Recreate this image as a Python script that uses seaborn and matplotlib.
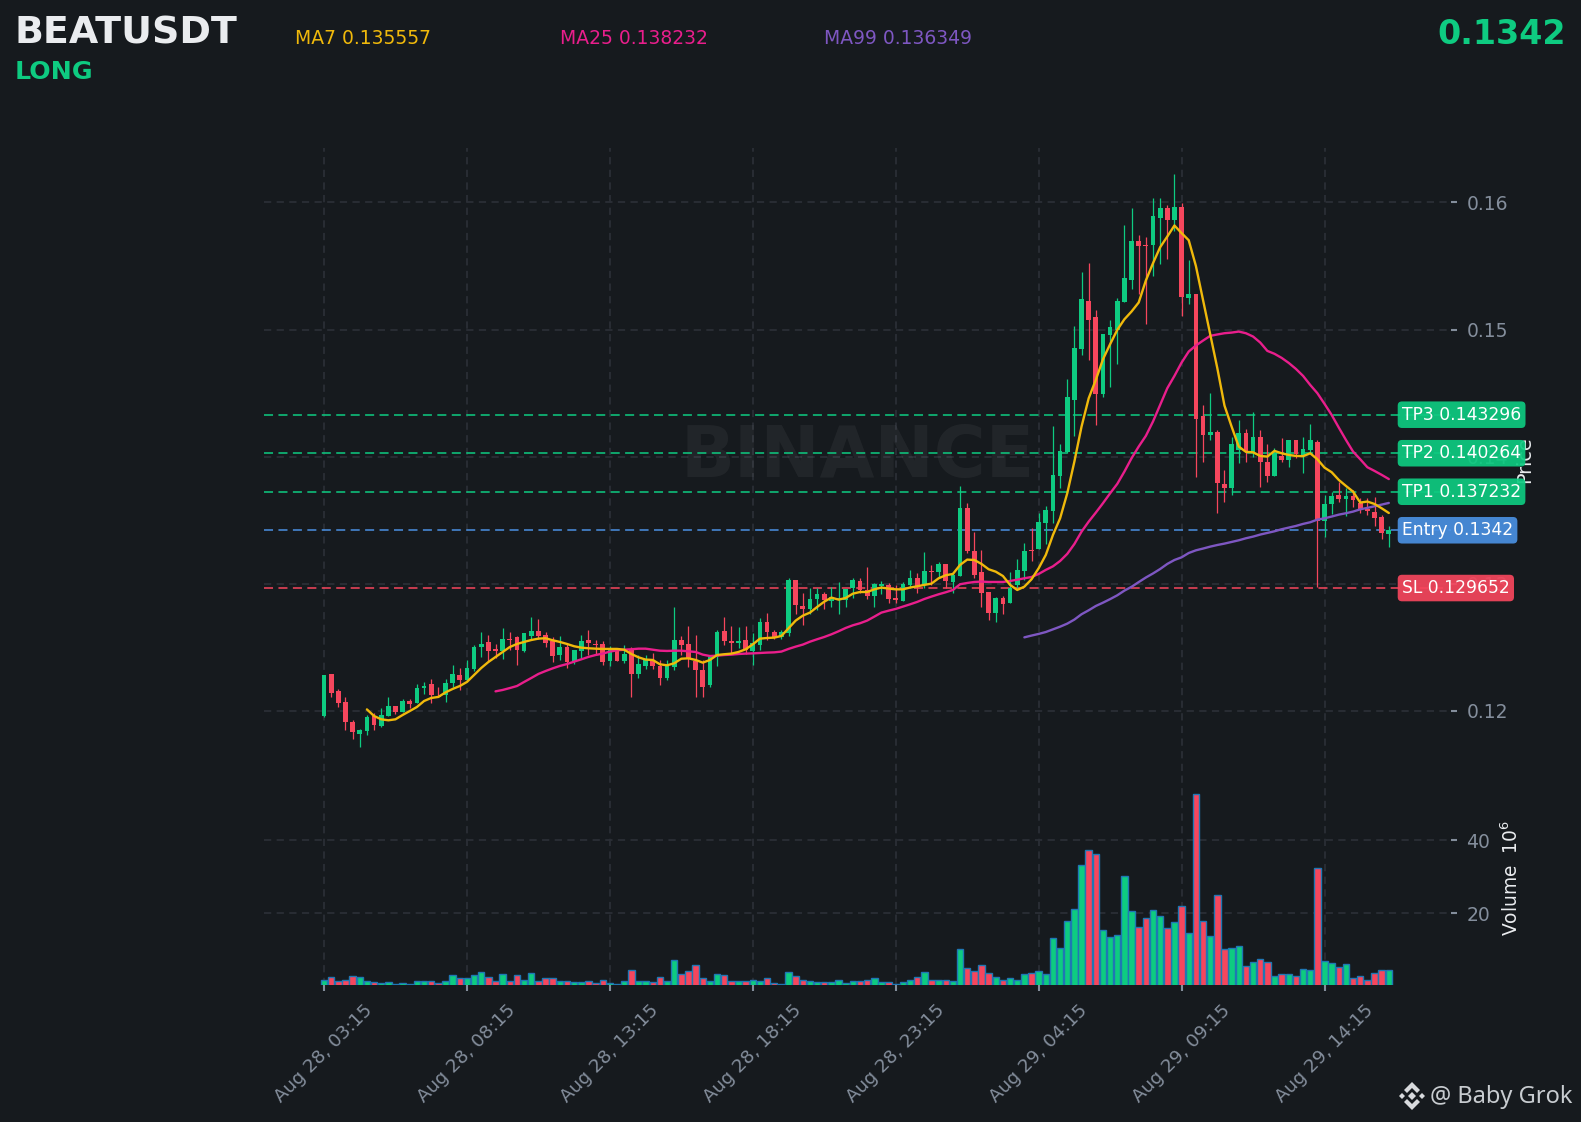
import pandas as pd
import matplotlib.pyplot as plt
from matplotlib.patches import Polygon
import seaborn as sns

# --- Candle data (15m) ---
opens = [.11958,.12289,.12155,.12068,.11908,.11816,.11840,.11958,.11879,.11958,
         .12037,.11990,.12076,.12060,.12178,.12210,.12110,.12123,.12218,.12281,
         .12241,.12328,.12501,.12541,.12486,.12470,.12564,.12580,.12470,.12588,
         .12627,.12596,.12549,.12438,.12501,.12383,.12470,.12556,.12525,.12525,
         .12391,.12478,.12391,.12478,.12289,.12352,.12391,.12352,.12257,.12344,
         .12556,.12525,.12391,.12320,.12202,.12425,.12627,.12549,.12533,.12556,
         .12470,.12517,.12698,.12619,.12580,.12612,.13029,.12824,.12801,.12879,
         .12919,.12866,.12871,.12871,.12966,.13021,.12950,.12903,.12982,.12990,
         .12887,.12864,.12990,.13045,.12990,.13102,.13094,.13155,.13013,.13060,
         .13596,.13257,.13092,.12934,.12769,.12887,.12848,.12990,.13100,.13265,
         .13273,.13478,.13575,.13848,.14037,.14446,.14848,.15226,.15100,.14493,
         .14958,.14997,.15218,.15391,.15698,.15667,.15667,.15879,.15958,.15864,
         .15966,.15249,.15281,.14320,.14171,.14194,.13785,.13753,.14052,.14186,
         .14026,.14155,.13961,.13848,.14008,.13974,.14131,.14010,.14052,.14115,
         .13496,.13627,.13698,.13667,.13690,.13633,.13588,.13564,.13525,.13394]
closes = [.12281,.12142,.12060,.11913,.11832,.11848,.11950,.11887,.11966,.12037,
          .11990,.12076,.12052,.12178,.12194,.12123,.12108,.12218,.12289,.12241,
          .12336,.12501,.12525,.12470,.12470,.12564,.12559,.12478,.12612,.12627,
          .12588,.12533,.12430,.12501,.12383,.12478,.12549,.12533,.12520,.12383,
          .12478,.12391,.12446,.12289,.12367,.12399,.12352,.12257,.12352,.12556,
          .12517,.12412,.12320,.12186,.12423,.12619,.12549,.12533,.12549,.12478,
          .12533,.12698,.12619,.12580,.12619,.13029,.12832,.12801,.12879,.12919,
          .12871,.12898,.12885,.12958,.13029,.12950,.12903,.12997,.12997,.12879,
          .12871,.12997,.13045,.12974,.13100,.13094,.13155,.13021,.13068,.13596,
          .13257,.13068,.12927,.12769,.12887,.12840,.12966,.13108,.13257,.13257,
          .13486,.13580,.13856,.14045,.14470,.14856,.15241,.15076,.14493,.14966,
          .15021,.15226,.15407,.15698,.15659,.15659,.15895,.15958,.15864,.15966,
          .15257,.15281,.14297,.14171,.14194,.13793,.13753,.14100,.14186,.14037,
          .14155,.13961,.13848,.14026,.13974,.14131,.14021,.14060,.14131,.13496,
          .13627,.13690,.13667,.13690,.13659,.13585,.13575,.13517,.13402,.13420]
highs = [.12281,.12289,.12168,.12105,.11927,.11853,.11966,.11979,.12018,.12105,
         .12037,.12089,.12092,.12207,.12226,.12249,.12184,.12247,.12357,.12336,
         .12399,.12517,.12617,.12596,.12525,.12648,.12619,.12588,.12612,.12738,
         .12719,.12619,.12583,.12588,.12525,.12478,.12596,.12635,.12556,.12549,
         .12509,.12478,.12517,.12501,.12438,.12438,.12451,.12399,.12399,.12816,
         .12588,.12667,.12596,.12399,.12423,.12635,.12738,.12667,.12659,.12667,
         .12609,.12727,.12766,.12635,.12635,.13042,.13029,.12924,.12963,.12963,
         .12937,.12976,.13016,.12958,.13042,.13042,.13134,.13003,.13024,.13003,
         .12990,.13016,.13108,.13081,.13247,.13147,.13173,.13155,.13094,.13769,
         .13633,.13409,.13265,.12934,.12898,.12903,.13094,.13192,.13323,.13436,
         .13554,.13612,.14241,.14100,.14612,.15029,.15454,.15525,.15155,.14966,
         .15076,.15247,.15824,.15955,.15745,.15727,.16034,.16034,.15982,.16226,
         .15995,.15549,.15281,.14407,.14499,.14210,.13895,.14152,.14289,.14215,
         .14349,.14210,.14097,.14066,.14144,.14131,.14131,.14152,.14257,.14131,
         .13696,.13724,.13803,.13751,.13738,.13672,.13672,.13685,.13541,.13454]
lows = [.11948,.12110,.12031,.11848,.11780,.11717,.11811,.11848,.11869,.11958,
        .11974,.11990,.12021,.12060,.12131,.12063,.12105,.12071,.12184,.12165,
        .12234,.12312,.12423,.12383,.12415,.12407,.12478,.12360,.12462,.12556,
        .12564,.12501,.12383,.12399,.12333,.12367,.12412,.12438,.12438,.12360,
        .12352,.12391,.12373,.12110,.12257,.12328,.12328,.12202,.12241,.12320,
        .12438,.12346,.12110,.12108,.12189,.12352,.12517,.12444,.12496,.12444,
        .12360,.12478,.12556,.12564,.12564,.12588,.12761,.12672,.12761,.12793,
        .12803,.12819,.12759,.12814,.12885,.12924,.12877,.12814,.12916,.12845,
        .12845,.12864,.12963,.12924,.12963,.12990,.13055,.12963,.12924,.13060,
        .13239,.13042,.12814,.12714,.12701,.12761,.12845,.12963,.13029,.13181,
        .13273,.13312,.13475,.13753,.14026,.14163,.14801,.14761,.14247,.14472,
        .14551,.14730,.15218,.15323,.15281,.15042,.15425,.15514,.15559,.15772,
        .15110,.15202,.13837,.13961,.14131,.13554,.13646,.13698,.13953,.13961,
        .14000,.13764,.13803,.13848,.13961,.13921,.13987,.13869,.14039,.12976,
        .13370,.13549,.13646,.13535,.13606,.13554,.13538,.13454,.13352,.13291]

# volume in millions
volumes = [1.6,2.5,1.3,1.8,2.7,2.5,1.3,1.0,0.8,1.0,
           0.5,0.8,0.5,1.3,1.3,1.5,0.8,1.5,3.0,2.1,
           2.1,3.0,3.8,2.4,1.5,3.3,1.3,3.0,1.8,3.5,
           1.3,2.2,2.2,1.5,1.5,1.0,1.0,1.3,0.8,1.8,
           0.8,0.5,1.3,4.4,1.3,1.5,1.0,2.4,1.3,7.1,
           3.3,4.0,5.7,2.2,1.3,3.3,3.0,1.5,1.3,1.5,
           1.8,1.5,2.2,0.8,0.45,3.8,2.7,1.8,1.5,1.0,
           1.0,1.0,1.8,0.8,1.5,1.3,1.8,2.1,1.0,1.0,
           0.7,1.0,1.8,2.4,3.8,1.8,1.6,1.6,1.3,10.1,
           4.9,4.0,5.7,3.5,2.4,1.6,2.1,1.8,3.2,3.5,
           4.0,3.2,13.1,10.4,17.8,21.1,33.2,37.3,36.2,15.3,
           13.4,13.9,30.2,20.6,16.1,18.6,20.8,19.2,15.9,17.5,
           21.9,14.5,52.6,17.8,13.7,25.0,10.1,10.4,10.9,5.4,
           6.5,7.3,6.5,2.9,3.2,3.2,2.9,4.6,4.3,32.4,
           6.8,6.2,5.1,6.0,2.1,2.9,1.8,3.5,4.3,4.3]

# moving averages, read per candle
ma7_start = 6
ma7 = [.12010,.11958,.11932,.11924,.11932,.11966,.11997,.12029,.12076,.12100,
       .12108,.12144,.12171,.12194,.12226,.12281,.12336,.12383,.12423,.12462,
       .12501,.12525,.12541,.12556,.12567,.12570,.12554,.12541,.12525,.12507,
       .12496,.12491,.12488,.12486,.12486,.12486,.12480,.12446,.12420,.12402,
       .12399,.12365,.12357,.12373,.12409,.12412,.12399,.12378,.12399,.12438,
       .12444,.12449,.12462,.12483,.12522,.12567,.12572,.12575,.12588,.12648,
       .12709,.12748,.12772,.12816,.12858,.12890,.12874,.12887,.12921,.12934,
       .12934,.12955,.12969,.12961,.12955,.12955,.12969,.12979,.12990,.13000,
       .13042,.13066,.13076,.13147,.13189,.13186,.13155,.13113,.13094,.13060,
       .12990,.12950,.12976,.13034,.13121,.13226,.13383,.13514,.13711,.13961,
       .14236,.14459,.14604,.14766,.14885,.14997,.15081,.15142,.15213,.15386,
       .15522,.15648,.15732,.15819,.15759,.15703,.15501,.15234,.14971,.14696,
       .14402,.14236,.14079,.14037,.14034,.14005,.14000,.14045,.14026,.14013,
       .14005,.14003,.14026,.13979,.13913,.13877,.13816,.13769,.13724,.13638,
       .13646,.13627,.13593,.13556]
ma25_start = 24
ma25 = [.12152,.12163,.12178,.12194,.12226,.12257,.12289,.12312,.12333,.12352,
        .12367,.12386,.12404,.12423,.12438,.12449,.12465,.12475,.12480,.12483,
        .12488,.12488,.12480,.12472,.12470,.12472,.12472,.12467,.12462,.12441,
        .12430,.12433,.12438,.12441,.12446,.12449,.12451,.12454,.12457,.12459,
        .12465,.12486,.12504,.12520,.12543,.12562,.12580,.12601,.12625,.12651,
        .12672,.12688,.12709,.12740,.12772,.12787,.12801,.12819,.12837,.12856,
        .12879,.12898,.12916,.12932,.12950,.12995,.13005,.13013,.13016,.13013,
        .13013,.13013,.13021,.13031,.13042,.13052,.13076,.13108,.13136,.13178,
        .13234,.13312,.13409,.13488,.13559,.13633,.13711,.13785,.13882,.13987,
        .14079,.14163,.14276,.14407,.14538,.14635,.14740,.14827,.14874,.14913,
        .14950,.14961,.14971,.14976,.14984,.14971,.14945,.14898,.14832,.14809,
        .14777,.14737,.14690,.14635,.14564,.14499,.14415,.14328,.14228,.14131,
        .14039,.13979,.13916,.13887,.13856,.13823]
ma99_start = 98
ma99 = [.12577,.12591,.12604,.12619,.12640,.12661,.12685,.12717,.12759,.12790,
        .12824,.12850,.12878,.12908,.12945,.12975,.13012,.13048,.13080,.13115,
        .13155,.13186,.13207,.13241,.13262,.13276,.13291,.13304,.13315,.13328,
        .13341,.13357,.13370,.13386,.13399,.13412,.13428,.13441,.13454,.13470,
        .13483,.13504,.13514,.13528,.13543,.13554,.13567,.13585,.13596,.13609,
        .13622,.13635]

# tick positions / labels
x_ticks = [0, 20, 40, 60, 80, 100, 120, 140]
x_labels = ["Aug 28, 03:15", "Aug 28, 08:15", "Aug 28, 13:15", "Aug 28, 18:15",
            "Aug 28, 23:15", "Aug 29, 04:15", "Aug 29, 09:15", "Aug 29, 14:15"]
price_ticks = [0.12, 0.13, 0.14, 0.15, 0.16]
vol_ticks = [20, 40]

# trade levels
level_names = ["TP3 0.143296", "TP2 0.140264", "TP1 0.137232", "Entry 0.1342", "SL 0.129652"]
level_values = [0.143296, 0.140264, 0.137232, 0.1342, 0.129652]
level_colors = ["#0ecb81", "#0ecb81", "#0ecb81", "#4a90e2", "#f6465d"]

BG = "#161a1e"
UP = "#0ecb81"
DOWN = "#f6465d"
GRID = "#2b2f36"
TICK = "#848e9c"

sns.set_theme(style="dark", rc={
    "figure.facecolor": BG, "axes.facecolor": BG, "savefig.facecolor": BG,
    "axes.edgecolor": BG, "font.family": "DejaVu Sans",
})

W, H = 1581, 1122
fig = plt.figure(figsize=(W / 100, H / 100), dpi=100)

# panels, in pixels
left, right, top, split, bottom = 264, 1451, 148, 771, 985
ax = fig.add_axes([left / W, 1 - split / H, (right - left) / W, (split - top) / H])
ax_vol = fig.add_axes([left / W, 1 - bottom / H, (right - left) / W, (bottom - split) / H])

idx = list(range(len(opens)))
side = ["up" if c >= o else "down" for o, c in zip(opens, closes)]
palette = {"up": UP, "down": DOWN}
colors = [palette[s] for s in side]

# --- Candles ---
ax.vlines(idx, lows, highs, colors=colors, linewidth=0.9, zorder=3)
ax.bar(idx, [max(abs(c - o), 0.00004) for o, c in zip(opens, closes)],
       bottom=[min(o, c) for o, c in zip(opens, closes)],
       width=0.66, color=colors, linewidth=0, zorder=3)

# --- Moving averages ---
for values, start, col in [(ma99, ma99_start, "#7e57c2"), (ma25, ma25_start, "#e91e8c"), (ma7, ma7_start, "#f0b90b")]:
    sns.lineplot(x=idx[start:], y=values, ax=ax, color=col, linewidth=1.7, zorder=4, legend=False)

# --- Levels ---
for name, val, col in zip(level_names, level_values, level_colors):
    ax.axhline(val, color=col, linewidth=1.3, linestyle=(0, (5, 3)), alpha=0.85, zorder=2)
    ax.text(0.9587, val, name, transform=ax.get_yaxis_transform(), color="white", fontsize=12.3,
            va="center", ha="left", zorder=6, clip_on=False,
            bbox=dict(boxstyle="round,pad=0.25", facecolor=col, edgecolor="none", alpha=0.92))

ax.text(0.5, 0.503, "BINANCE", transform=ax.transAxes, color="white", alpha=0.05, fontsize=51,
        fontweight="bold", ha="center", va="center", zorder=1)

# --- Volume ---
vol_df = pd.DataFrame({"idx": idx, "volume": volumes, "side": side})
sns.barplot(data=vol_df, x="idx", y="volume", hue="side", palette=palette, native_scale=True,
            dodge=False, width=0.9, saturation=1, edgecolor="#1f77b4", linewidth=1.0,
            legend=False, ax=ax_vol, zorder=3)

# --- Axes ---
for a in (ax, ax_vol):
    a.set_xlim(-8.4, 157.7)
    a.set_xticks(x_ticks)
    a.yaxis.tick_right()
    a.yaxis.set_label_position("right")
    a.grid(True, color=GRID, linestyle=(0, (4, 3)), linewidth=1.3)
    a.set_axisbelow(True)
    a.set_xlabel("")
    a.tick_params(axis="y", colors=TICK, labelsize=13.5, length=4.5, width=1.5, right=True, pad=6.5)
    sns.despine(ax=a, left=True, right=True, top=True, bottom=True)

ax.set_ylim(0.11525, 0.16429)
ax.set_yticks(price_ticks)
ax.set_yticklabels([f"{t:g}" for t in price_ticks])
ax.tick_params(axis="x", bottom=False, labelbottom=False)
ax.set_ylabel("Price", color="#eaecef", fontsize=13.8)
ax.yaxis.set_label_coords(1.054, 0.5)

ax_vol.set_ylim(0.3, 58.9)
ax_vol.set_yticks(vol_ticks)
ax_vol.set_yticklabels([str(t) for t in vol_ticks])
ax_vol.set_xticklabels(x_labels, rotation=45, ha="center")
ax_vol.tick_params(axis="x", colors=TICK, labelsize=13.3, length=4.5, width=1.5, bottom=True, pad=7)
ax_vol.set_ylabel("Volume  $10^{6}$", color="#eaecef", fontsize=13.4)
ax_vol.yaxis.set_label_coords(1.0421, 0.5)

# --- Header ---
fig.text(15 / W, 1 - 34 / H, "BEATUSDT", color="#eaecef", fontsize=27.4, fontweight="bold", va="center")
fig.text(15 / W, 1 - 72 / H, "LONG", color=UP, fontsize=18.2, fontweight="bold", va="center")
fig.text(295 / W, 1 - 38 / H, "MA7 0.135557", color="#f0b90b", fontsize=13.5, va="center")
fig.text(560 / W, 1 - 38 / H, "MA25 0.138232", color="#e91e8c", fontsize=13.5, va="center")
fig.text(824 / W, 1 - 38 / H, "MA99 0.136349", color="#7e57c2", fontsize=13.5, va="center")
fig.text(1566 / W, 1 - 35 / H, "0.1342", color=UP, fontsize=24, fontweight="bold", va="center", ha="right")

# --- Footer: logo and handle ---
fig.text(1572 / W, 1 - 1097 / H, "@ Baby Grok", color="#c8ccd0", fontsize=17, family="Noto Sans", ha="right", va="center")
logo_x, logo_y, logo_col = 1412, 1122 - 1096, "#d8dadd"
to_fig = lambda pts: [((logo_x + px) / W, (logo_y + py) / H) for px, py in pts]
for shape in (
    [(0, 4), (4, 0), (0, -4), (-4, 0)],
    [(-13, 0), (-10, 3), (-7, 0), (-10, -3)],
    [(13, 0), (10, 3), (7, 0), (10, -3)],
    [(0, 14), (8, 6), (5, 3), (0, 8), (-5, 3), (-8, 6)],
    [(0, -14), (8, -6), (5, -3), (0, -8), (-5, -3), (-8, -6)],
):
    fig.add_artist(Polygon(to_fig(shape), closed=True, facecolor=logo_col, edgecolor="none", transform=fig.transFigure))

fig.savefig("out.png", dpi=100)
